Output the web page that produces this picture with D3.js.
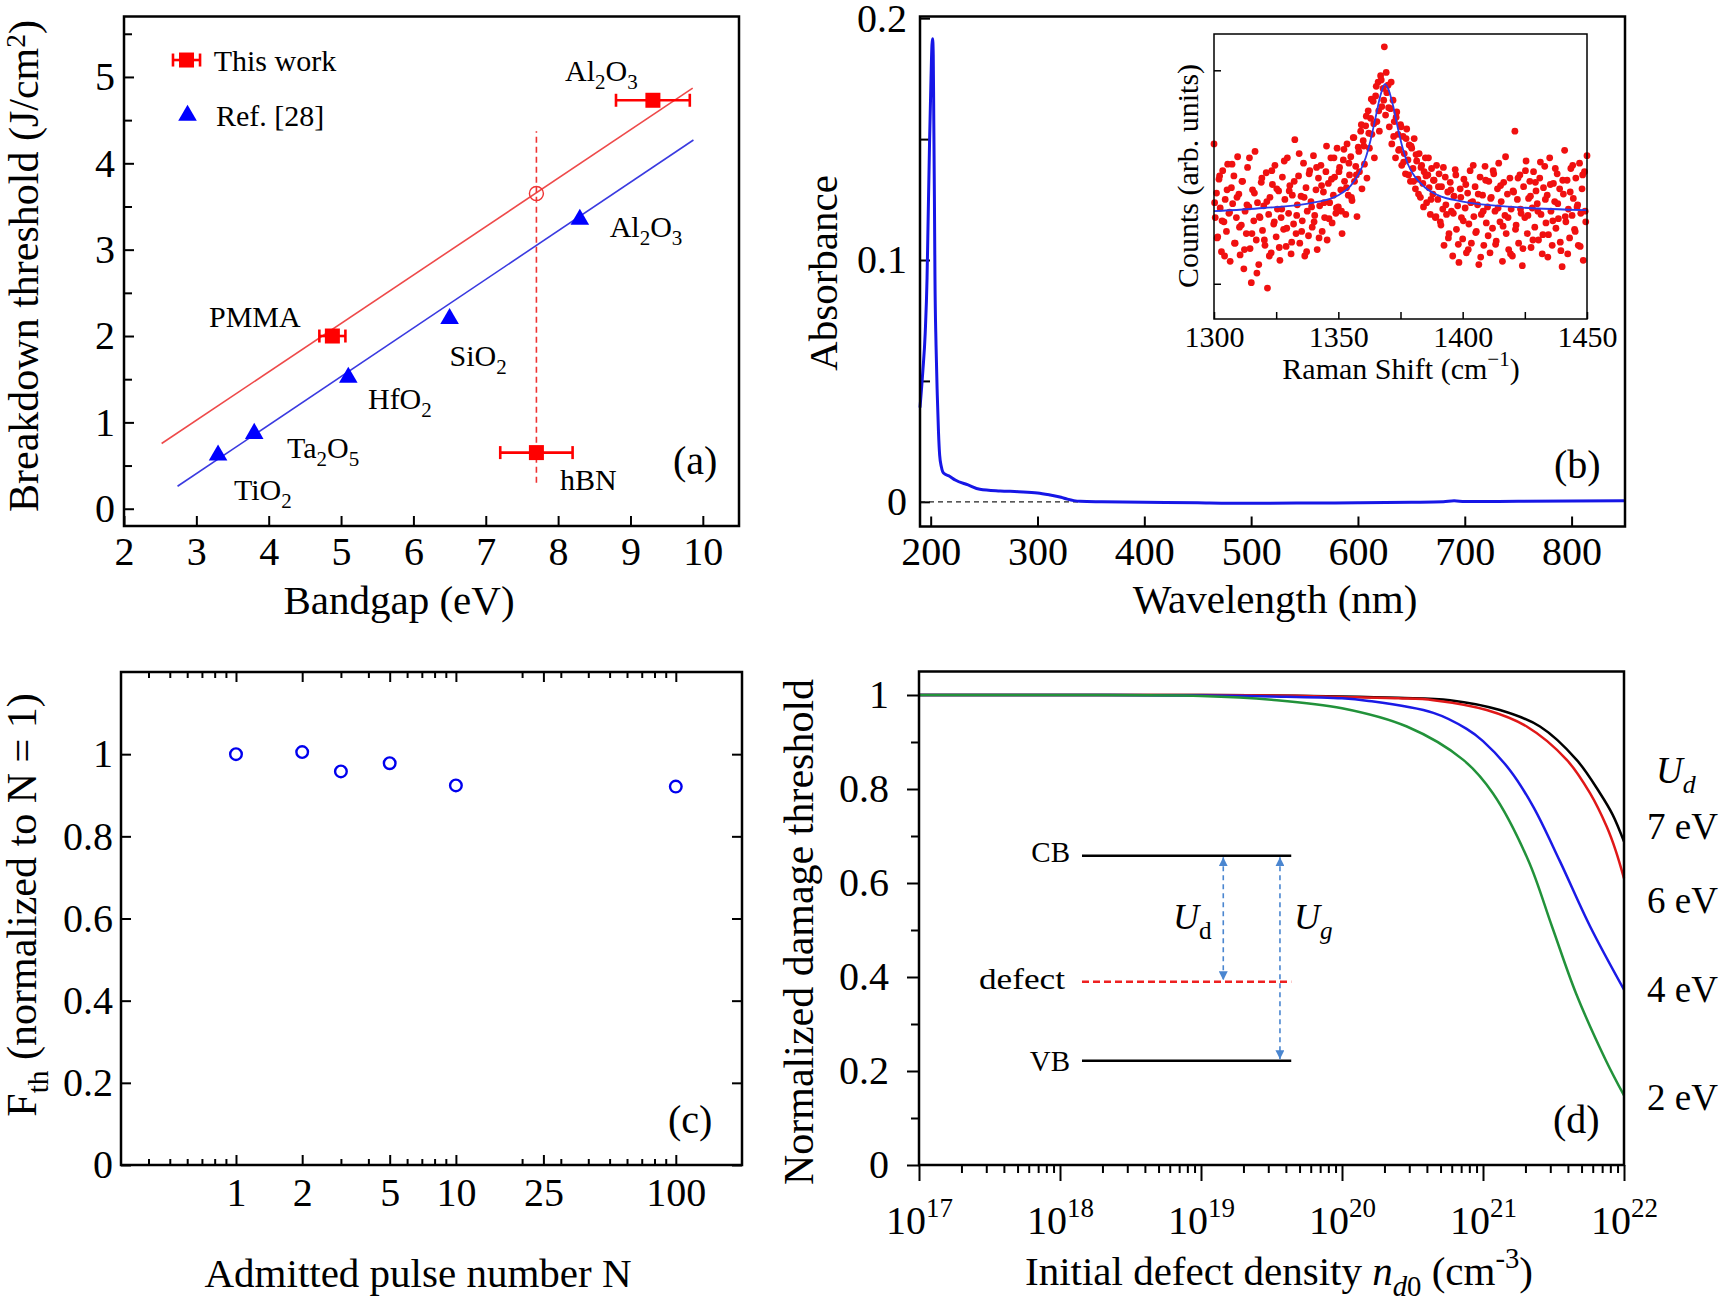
<!DOCTYPE html>
<html><head><meta charset="utf-8">
<script src="https://cdn.jsdelivr.net/npm/d3@7"></script>
<style>body{margin:0;background:#fff} svg{display:block}</style>
</head><body>
<script>
// ================= DATA =================
// Panel (a): breakdown threshold vs bandgap
const thisWorkNames = ["PMMA", "hBN", "Al2O3"];
const thisWorkGap   = [4.88, 7.70, 9.31];
const thisWorkFth   = [2.00, 0.65, 4.73];
const thisWorkErr   = [0.18, 0.50, 0.51];
const refNames = ["TiO2", "Ta2O5", "HfO2", "SiO2", "Al2O3"];
const refGap   = [3.30, 3.80, 5.10, 6.50, 8.30];
const refFth   = [0.62, 0.87, 1.52, 2.20, 3.35];
const redFitGap  = [2.52, 9.86];
const redFitFth  = [0.755, 4.87];
const blueFitGap = [2.74, 9.87];
const blueFitFth = [0.26, 4.27];
const hbnPredGap = 7.70, hbnPredFth = 3.65;
const hbnGuideFth = [0.30, 4.37];
const aXTicks = [2, 3, 4, 5, 6, 7, 8, 9, 10];
const aYTicks = [0, 1, 2, 3, 4, 5];
const aYMinor = [0.5, 1.5, 2.5, 3.5, 4.5, 5.5];

// Panel (b): absorbance spectrum
const absWl  = [190, 192.6, 194.9, 196.6, 197.3, 199, 200.3, 201.2, 201.8, 202.4, 202.9, 203.5, 204, 205, 206.2, 207.3, 208.4, 210, 212, 218, 223, 235, 246, 265, 282, 300, 312, 322, 328, 334, 340, 360, 400, 450, 480, 550, 600, 650, 680, 690, 700, 750, 800, 850];
const absVal = [0.039, 0.0537, 0.070, 0.0926, 0.109, 0.150, 0.175, 0.189, 0.1915, 0.185, 0.158, 0.125, 0.093, 0.065, 0.044, 0.029, 0.0193, 0.0145, 0.0119, 0.0105, 0.0090, 0.0070, 0.0052, 0.0045, 0.0042, 0.0037, 0.0028, 0.0019, 0.0011, 0.0005, 0.0002, 0.0000, -0.0002, -0.0004, -0.0006, -0.0005, -0.0004, -0.0002, 0.0000, 0.0004, 0.0001, 0.0002, 0.0003, 0.0004];
const bXTicks = [200, 300, 400, 500, 600, 700, 800];
const bYTicks = [0, 0.1, 0.2];
const bYMinor = [0.05, 0.15];

// Panel (b) inset: Raman spectrum (counts, arb. units)
// scan 1: every 0.5 cm-1 from 1300 to 1450
const ramanShift = d3.range(1300, 1450.001, 0.5);
const ramanCounts = [
331,262,285,244,298,271,230,306,258,279,
249,312,266,221,290,275,301,238,262,319,
284,227,255,296,214,268,247,309,272,233,
201,288,259,324,241,276,218,262,295,250,
273,236,304,196,265,281,229,293,256,311,
244,270,287,222,262,300,251,279,235,318,
266,292,228,283,256,335,247,274,301,238,
282,259,313,226,290,268,245,306,277,253,
320,264,288,232,299,273,311,249,286,262,
305,241,294,276,318,257,283,300,266,327,
272,309,288,247,316,296,265,331,283,302,
319,278,337,296,310,263,328,305,343,289,
334,312,348,299,362,327,355,340,371,318,
376,352,389,343,395,366,383,422,358,379,
386,347,364,331,372,352,318,361,340,326,
349,311,338,322,303,345,316,330,296,327,
308,336,289,315,298,322,281,311,294,305,
318,276,302,290,265,308,284,297,262,311,
279,303,258,291,270,236,300,265,286,247,
295,268,226,282,307,251,273,220,289,262,
242,298,271,229,285,256,306,238,277,263,
291,249,274,218,300,265,283,236,310,257,
272,296,229,281,252,303,268,240,289,313,
258,277,221,295,264,247,284,232,299,270,
226,286,343,255,279,238,302,266,217,291,
262,315,247,280,296,234,271,305,253,287,
275,241,299,265,228,290,310,257,283,246,
318,268,236,294,277,252,303,261,289,231,
216,284,325,258,297,270,243,308,264,280,
251,299,272,236,313,266,289,222,305,258,
320];
// scan 2: every 1 cm-1 from 1300.25 to 1449.25
const ramanShift2 = d3.range(1300.25, 1450, 1.0);
const ramanCounts2 = [
276,243,301,259,226,288,267,312,238,281,
253,296,232,274,318,247,285,210,263,299,
241,277,226,306,258,289,234,270,315,252,
287,239,296,264,322,249,281,230,303,272,
258,309,243,292,276,329,261,298,318,271,
305,268,326,290,313,281,337,302,324,349,
329,357,341,373,350,385,362,391,372,398,
365,389,338,356,325,347,314,336,302,329,
296,321,284,309,272,301,318,279,297,263,
291,255,309,274,243,288,266,302,237,281,
259,293,232,276,311,248,284,225,268,297,
245,280,306,237,271,292,254,319,262,228,
287,251,299,270,233,306,264,282,241,295,
268,314,246,279,225,293,259,308,275,239,
297,263,228,286,311,249,274,235,302,268];
const fitShift  = [1300, 1320, 1340, 1350, 1355, 1358, 1361, 1363, 1365, 1367, 1368.7, 1370, 1372, 1374, 1376, 1378, 1380, 1385, 1390, 1400, 1420, 1450];
const fitCounts = [268, 271, 276, 283, 292, 302, 318, 335, 356, 377, 387, 383, 367, 345, 326, 312, 303, 290, 283, 277, 272, 269];
const insetXTicks = [1300, 1350, 1400, 1450];
const insetXMinor = [1325, 1375, 1425];
const insetYTicks = [200, 400];

// Panel (c): threshold vs pulse number
const pulseN   = [1, 2, 3, 5, 10, 100];
const pulseFth = [1.000, 1.005, 0.958, 0.978, 0.924, 0.921];
const cXTicks  = [1, 2, 5, 10, 25, 100];
const cXMinor  = [0.4, 0.5, 0.6, 0.7, 0.8, 0.9, 3, 4, 6, 7, 8, 9, 20, 30, 40, 50, 60, 70, 80, 90];
const cYTicks  = [0, 0.2, 0.4, 0.6, 0.8, 1];

// Panel (d): normalized damage threshold vs log10 defect density
const ud7Log = [17, 18, 19, 19.5, 20, 20.4, 20.766, 21.12, 21.404, 21.664, 21.83, 21.92, 22];
const ud7Val = [1, 1, 1, 0.999, 0.997, 0.994, 0.989, 0.968, 0.933, 0.862, 0.791, 0.745, 0.688];
const ud6Log = [17, 18, 19, 19.5, 20, 20.4, 20.648, 21.026, 21.31, 21.594, 21.759, 21.877, 21.94, 22];
const ud6Val = [1, 1, 1, 0.999, 0.996, 0.993, 0.989, 0.968, 0.933, 0.862, 0.791, 0.720, 0.670, 0.610];
const ud4Log = [17, 18, 19, 19.5, 20, 20.175, 20.648, 20.884, 21.0, 21.191, 21.357, 21.546, 21.759, 22];
const ud4Val = [1, 1, 0.999, 0.997, 0.993, 0.988, 0.962, 0.928, 0.902, 0.840, 0.762, 0.646, 0.508, 0.373];
const ud2Log = [17, 18, 19, 19.5, 20, 20.46, 20.86, 21.07, 21.32, 21.49, 21.66, 21.87, 22];
const ud2Val = [1, 1, 0.998, 0.990, 0.972, 0.933, 0.862, 0.791, 0.649, 0.507, 0.365, 0.2235, 0.148];
const udLabels = ["7 eV", "6 eV", "4 eV", "2 eV"];
const dDecades = [1e17, 1e18, 1e19, 1e20, 1e21, 1e22];
const dYTicks = [0, 0.2, 0.4, 0.6, 0.8, 1];
const dYMinor = [0.1, 0.3, 0.5, 0.7, 0.9];
// band diagram levels (normalized y) and extent (log10 density)
const bandCB = 0.658, bandDefect = 0.39, bandVB = 0.222;
const bandLogStart = 18.156, bandLogEnd = 19.64, arrowUdLog = 19.158, arrowUgLog = 19.56;

// ================= DRAW =================
const FONT = "'Liberation Serif','Times New Roman',Times,serif";
const TICK_FS = 40;
const svg = d3.select('body').append('svg').attr('width', 1725).attr('height', 1300);
svg.append('rect').attr('width', 1725).attr('height', 1300).attr('fill', '#fff');

function rich(parent, x, y, parts, o = {}) {
  const fs = o.size || 30;
  const t = parent.append('text').attr('x', x).attr('y', y)
    .attr('font-family', FONT).attr('font-size', fs).attr('fill', o.fill || '#000')
    .attr('text-anchor', o.anchor || 'start');
  if (o.rotate != null) t.attr('transform', `rotate(${o.rotate},${x},${y})`);
  if (o.len) t.attr('textLength', o.len).attr('lengthAdjust', 'spacingAndGlyphs');
  let cur = 0;
  parts.forEach(p => {
    const [str, kind] = typeof p === 'string' ? [p, 'n'] : p;
    let off = 0, sc = 1;
    if (kind.includes('sub')) { off = fs * 0.28; sc = 0.7; }
    if (kind.includes('sup')) { off = -fs * (o.supOff || 0.42); sc = o.supScale || 0.7; }
    const ts = t.append('tspan').attr('dy', off - cur).attr('font-size', fs * sc).text(str);
    if (kind.includes('i')) ts.attr('font-style', 'italic');
    cur = off;
  });
  return t;
}
function addAxis(g, gen, tx, ty, fs, sw = 2) {
  const a = g.append('g').attr('transform', `translate(${tx},${ty})`).call(gen);
  a.select('.domain').remove();
  a.selectAll('.tick line').attr('stroke', '#000').attr('stroke-width', sw);
  a.selectAll('.tick text').filter(function () { return this.textContent === ''; }).remove();
  a.selectAll('.tick text').attr('font-family', FONT).attr('font-size', fs).attr('fill', '#000');
  return a;
}
function frame(g, B, sw) {
  g.append('rect').attr('x', B.l).attr('y', B.t).attr('width', B.r - B.l).attr('height', B.b - B.t)
    .attr('fill', 'none').attr('stroke', '#000').attr('stroke-width', sw);
}
const chem = s => s.split(/(\d)/).filter(z => z).map(z => /\d/.test(z) ? [z, 'sub'] : z);

// ---------- Panel (a) ----------
{
  const A = { l: 124, r: 739, t: 16.5, b: 526 };
  const x = d3.scaleLinear().domain([2, 10.5]).range([A.l, A.r]);
  const y = d3.scaleLinear().domain([-0.2, 5.7]).range([A.b, A.t]);
  const g = svg.append('g');
  addAxis(g, d3.axisBottom(x).tickValues(aXTicks).tickFormat(d3.format('d')).tickSizeInner(-10).tickSizeOuter(0).tickPadding(11), 0, A.b, TICK_FS);
  addAxis(g, d3.axisLeft(y).tickValues(aYTicks).tickFormat(d3.format('d')).tickSizeInner(-10).tickSizeOuter(0).tickPadding(9), A.l, 0, TICK_FS);
  addAxis(g, d3.axisLeft(y).tickValues(aYMinor).tickFormat('').tickSizeInner(-8).tickSizeOuter(0), A.l, 0, TICK_FS);
  const line = d3.line().x(d => x(d[0])).y(d => y(d[1]));
  g.append('path').attr('d', line(d3.zip(redFitGap, redFitFth))).attr('stroke', '#ee4a4a').attr('stroke-width', 1.6).attr('fill', 'none');
  g.append('path').attr('d', line(d3.zip(blueFitGap, blueFitFth))).attr('stroke', '#3a3ae0').attr('stroke-width', 1.6).attr('fill', 'none');
  g.append('path').attr('d', line(hbnGuideFth.map(v => [hbnPredGap, v]))).attr('stroke', '#ee3333').attr('stroke-width', 1.6).attr('stroke-dasharray', '6,4').attr('fill', 'none');
  g.append('circle').attr('cx', x(hbnPredGap)).attr('cy', y(hbnPredFth)).attr('r', 7).attr('fill', 'none').attr('stroke', '#ee3333').attr('stroke-width', 1.4);
  const tri = d3.symbol().type(d3.symbolTriangle).size(150);
  g.selectAll('.tri').data(d3.zip(refGap, refFth)).join('path')
    .attr('transform', d => `translate(${x(d[0])},${y(d[1])})`).attr('d', tri()).attr('fill', '#0000ff');
  const drawErr = (cx, cy, ex) => {
    g.append('line').attr('x1', x(cx - ex)).attr('x2', x(cx + ex)).attr('y1', y(cy)).attr('y2', y(cy)).attr('stroke', '#ff0000').attr('stroke-width', 2.6);
    [cx - ex, cx + ex].forEach(e => g.append('line').attr('x1', x(e)).attr('x2', x(e)).attr('y1', y(cy) - 6.5).attr('y2', y(cy) + 6.5).attr('stroke', '#ff0000').attr('stroke-width', 2.6));
    g.append('rect').attr('x', x(cx) - 7.5).attr('y', y(cy) - 7.5).attr('width', 15).attr('height', 15).attr('fill', '#ff0000');
  };
  thisWorkGap.forEach((v, i) => drawErr(v, thisWorkFth[i], thisWorkErr[i]));
  // legend
  drawErr(2.864, 5.196, 0.187);
  g.append('path').attr('transform', `translate(${x(2.878)},${y(4.555)})`).attr('d', tri()).attr('fill', '#0000ff');
  rich(g, x(3.24), y(5.066), ['This work'], { size: 30 });
  rich(g, x(3.27), y(4.436), ['Ref. [28]'], { size: 30 });
  // labels
  rich(g, x(8.095), y(4.953), chem('Al2O3'), { size: 30 });
  rich(g, x(8.712), y(3.147), chem('Al2O3'), { size: 30 });
  rich(g, x(3.175), y(2.105), ['PMMA'], { size: 30 });
  rich(g, x(6.499), y(1.658), chem('SiO2'), { size: 30 });
  rich(g, x(5.372), y(1.155), chem('HfO2'), { size: 30 });
  rich(g, x(4.253), y(0.588), chem('Ta2O5'), { size: 30 });
  rich(g, x(3.52), y(0.101), chem('TiO2'), { size: 30 });
  rich(g, x(8.026), y(0.217), ['hBN'], { size: 30 });
  rich(g, x(9.588), y(0.403), ['(a)'], { size: 40 });
  frame(g, A, 2.5);
  rich(g, 399, 614, ['Bandgap (eV)'], { size: 41, anchor: 'middle' });
  rich(g, 38, 266, ['Breakdown threshold (J/cm', ['2', 'sup'], ')'], { size: 42, anchor: 'middle', rotate: -90, supOff: 0.32, supScale: 0.65 });
}

// ---------- Panel (b) ----------
{
  const B = { l: 920, r: 1625, t: 16.5, b: 526.5 };
  const x = d3.scaleLinear().domain([190, 850]).range([B.l, B.r]);
  const y = d3.scaleLinear().domain([-0.0102, 0.2007]).range([B.b, B.t]);
  const g = svg.append('g');
  addAxis(g, d3.axisBottom(x).tickValues(bXTicks).tickFormat(d3.format('d')).tickSizeInner(-10).tickSizeOuter(0).tickPadding(10), 0, B.b, TICK_FS);
  addAxis(g, d3.axisLeft(y).tickValues(bYTicks).tickFormat(d => d === 0 ? '0' : d.toFixed(1)).tickSizeInner(-10).tickSizeOuter(0).tickPadding(13), B.l, 0, TICK_FS);
  addAxis(g, d3.axisLeft(y).tickValues(bYMinor).tickFormat('').tickSizeInner(-10).tickSizeOuter(0), B.l, 0, TICK_FS);
  g.append('line').attr('x1', x(190)).attr('x2', x(340)).attr('y1', y(0)).attr('y2', y(0)).attr('stroke', '#222').attr('stroke-width', 1.4).attr('stroke-dasharray', '5,4');
  const line = d3.line().x(d => x(d[0])).y(d => y(d[1])).curve(d3.curveMonotoneX);
  g.append('path').attr('d', line(d3.zip(absWl, absVal))).attr('stroke', '#1616e6').attr('stroke-width', 3).attr('fill', 'none');
  rich(g, 1554, 478, ['(b)'], { size: 40 });
  frame(g, B, 2.5);
  rich(g, 1275, 613, ['Wavelength (nm)'], { size: 41, anchor: 'middle' });
  rich(g, 837, 273, ['Absorbance'], { size: 41, anchor: 'middle', rotate: -90 });

  // inset
  const I = { l: 1214, r: 1587, t: 34, b: 319 };
  const xi = d3.scaleLinear().domain([1300, 1450]).range([I.l, I.r]);
  const yi = d3.scaleLinear().domain([167, 434]).range([I.b, I.t]);
  const gi = g.append('g');
  gi.append('rect').attr('x', I.l).attr('y', I.t).attr('width', I.r - I.l).attr('height', I.b - I.t).attr('fill', '#fff');
  const pts = d3.zip(ramanShift, ramanCounts).concat(d3.zip(ramanShift2, ramanCounts2));
  gi.selectAll('circle').data(pts).join('circle')
    .attr('cx', d => xi(d[0])).attr('cy', d => yi(d[1])).attr('r', 3.4).attr('fill', '#f01010');
  const lineI = d3.line().x(d => xi(d[0])).y(d => yi(d[1])).curve(d3.curveMonotoneX);
  gi.append('path').attr('d', lineI(d3.zip(fitShift, fitCounts))).attr('stroke', '#2a3ae8').attr('stroke-width', 1.8).attr('fill', 'none');
  addAxis(gi, d3.axisBottom(xi).tickValues(insetXTicks).tickFormat(d3.format('d')).tickSizeInner(-7).tickSizeOuter(0).tickPadding(7), 0, I.b, 30, 1.5);
  addAxis(gi, d3.axisBottom(xi).tickValues(insetXMinor).tickFormat('').tickSizeInner(-7).tickSizeOuter(0), 0, I.b, 30, 1.5);
  addAxis(gi, d3.axisLeft(yi).tickValues(insetYTicks).tickFormat('').tickSizeInner(-7).tickSizeOuter(0), I.l, 0, 30, 1.5);
  frame(gi, I, 1.5);
  rich(gi, 1401, 379, ['Raman Shift (cm', ['\u22121', 'sup'], ')'], { size: 30, anchor: 'middle' });
  rich(gi, 1198, 176, ['Counts (arb. units)'], { size: 30, anchor: 'middle', rotate: -90 });
}

// ---------- Panel (c) ----------
{
  const C = { l: 121, r: 742, t: 672, b: 1165 };
  const x = d3.scaleLog().domain([0.3, 200]).range([C.l, C.r]);
  const y = d3.scaleLinear().domain([0, 1.2]).range([C.b, C.t]);
  const g = svg.append('g');
  addAxis(g, d3.axisBottom(x).tickValues(cXTicks).tickFormat(d3.format('d')).tickSizeInner(-10).tickSizeOuter(0).tickPadding(13), 0, C.b, TICK_FS);
  addAxis(g, d3.axisBottom(x).tickValues(cXMinor).tickFormat('').tickSizeInner(-6).tickSizeOuter(0), 0, C.b, TICK_FS);
  addAxis(g, d3.axisTop(x).tickValues(cXTicks).tickFormat('').tickSizeInner(-10).tickSizeOuter(0), 0, C.t, TICK_FS);
  addAxis(g, d3.axisTop(x).tickValues(cXMinor).tickFormat('').tickSizeInner(-6).tickSizeOuter(0), 0, C.t, TICK_FS);
  addAxis(g, d3.axisLeft(y).tickValues(cYTicks).tickFormat(d => (d === 0 || d === 1) ? String(d) : d.toFixed(1)).tickSizeInner(-10).tickSizeOuter(0).tickPadding(8), C.l, 0, TICK_FS);
  addAxis(g, d3.axisRight(y).tickValues(cYTicks).tickFormat('').tickSizeInner(-10).tickSizeOuter(0), C.r, 0, TICK_FS);
  g.selectAll('.pt').data(d3.zip(pulseN, pulseFth)).join('circle')
    .attr('cx', d => x(d[0])).attr('cy', d => y(d[1])).attr('r', 5.8).attr('fill', 'none').attr('stroke', '#0000ee').attr('stroke-width', 2.4);
  rich(g, 668, 1133, ['(c)'], { size: 40 });
  frame(g, C, 2.5);
  rich(g, 418, 1287, ['Admitted pulse number N'], { size: 41, anchor: 'middle' });
  rich(g, 36, 905, ['F', ['th', 'sub'], ' (normalized to N = 1)'], { size: 42, anchor: 'middle', rotate: -90 });
}

// ---------- Panel (d) ----------
{
  const D = { l: 919, r: 1624, t: 671.5, b: 1165 };
  const x = d3.scaleLog().domain([1e17, 1e22]).range([D.l, D.r]);
  const y = d3.scaleLinear().domain([0, 1.05]).range([D.b, D.t]);
  const g = svg.append('g');
  const minors = [];
  dDecades.slice(0, -1).forEach(dec => { for (let m = 2; m <= 9; m++) minors.push(m * dec); });
  const ax = addAxis(g, d3.axisBottom(x).tickValues(dDecades).tickFormat('').tickSizeInner(16).tickSizeOuter(0), 0, D.b, TICK_FS);
  ax.selectAll('.tick').each(function (d) {
    const t = d3.select(this).append('text').attr('y', 69).attr('text-anchor', 'middle')
      .attr('font-family', FONT).attr('font-size', TICK_FS).attr('fill', '#000');
    t.append('tspan').text('10');
    t.append('tspan').attr('dy', -17).attr('font-size', 27).text(Math.round(Math.log10(d)));
  });
  addAxis(g, d3.axisBottom(x).tickValues(minors).tickFormat('').tickSizeInner(8).tickSizeOuter(0), 0, D.b, TICK_FS);
  addAxis(g, d3.axisLeft(y).tickValues(dYTicks).tickFormat(d => (d === 0 || d === 1) ? String(d) : d.toFixed(1)).tickSizeInner(12).tickSizeOuter(0).tickPadding(18), D.l, 0, TICK_FS);
  addAxis(g, d3.axisLeft(y).tickValues(dYMinor).tickFormat('').tickSizeInner(8).tickSizeOuter(0), D.l, 0, TICK_FS);

  const line = d3.line().x(d => x(Math.pow(10, d[0]))).y(d => y(d[1])).curve(d3.curveCatmullRom.alpha(0.5));
  const series = [[ud7Log, ud7Val, '#000000'], [ud6Log, ud6Val, '#e01818'], [ud4Log, ud4Val, '#1a1ae6'], [ud2Log, ud2Val, '#22923a']];
  series.forEach(s => g.append('path').attr('d', line(d3.zip(s[0], s[1]))).attr('stroke', s[2]).attr('stroke-width', 2.5).attr('fill', 'none'));

  // band diagram
  const bx0 = x(Math.pow(10, bandLogStart)), bx1 = x(Math.pow(10, bandLogEnd));
  g.append('line').attr('x1', bx0).attr('x2', bx1).attr('y1', y(bandCB)).attr('y2', y(bandCB)).attr('stroke', '#000').attr('stroke-width', 2.5);
  g.append('line').attr('x1', bx0).attr('x2', bx1).attr('y1', y(bandVB)).attr('y2', y(bandVB)).attr('stroke', '#000').attr('stroke-width', 2.5);
  g.append('line').attr('x1', bx0).attr('x2', bx1).attr('y1', y(bandDefect)).attr('y2', y(bandDefect)).attr('stroke', '#ee2020').attr('stroke-width', 2.5).attr('stroke-dasharray', '7,4');
  const defs = svg.append('defs');
  defs.append('marker').attr('id', 'ah').attr('viewBox', '0 0 10 10').attr('refX', 10).attr('refY', 5)
    .attr('markerWidth', 9).attr('markerHeight', 9).attr('markerUnits', 'userSpaceOnUse').attr('orient', 'auto-start-reverse')
    .append('path').attr('d', 'M0,0 L10,5 L0,10 z').attr('fill', '#4a86d0');
  const arrow = (lg, v0, v1) => g.append('line').attr('x1', x(Math.pow(10, lg))).attr('x2', x(Math.pow(10, lg)))
    .attr('y1', y(v0) + 1.5).attr('y2', y(v1) - 1.5).attr('stroke', '#4a86d0').attr('stroke-width', 1.6)
    .attr('stroke-dasharray', '5,4').attr('marker-start', 'url(#ah)').attr('marker-end', 'url(#ah)');
  arrow(arrowUdLog, bandCB, bandDefect);
  arrow(arrowUgLog, bandCB, bandVB);
  rich(g, 1070, 862, ['CB'], { size: 29, anchor: 'end' });
  rich(g, 1065, 989, ['defect'], { size: 30, anchor: 'end', len: 86 });
  rich(g, 1070, 1071, ['VB'], { size: 29, anchor: 'end' });
  rich(g, 1173, 929, [['U', 'i'], ['d', 'sub']], { size: 36 });
  rich(g, 1294, 929, [['U', 'i'], ['g', 'isub']], { size: 36 });
  rich(g, 1553, 1133, ['(d)'], { size: 40 });
  frame(g, D, 2.5);
  // U_d labels at right
  rich(g, 1656, 783, [['U', 'i'], ['d', 'isub']], { size: 37 });
  const endY = [839, 913, 1002, 1110];
  udLabels.forEach((s, i) => rich(g, 1647, endY[i], [s], { size: 37 }));
  rich(g, 1279, 1285, ['Initial defect density ', ['n', 'i'], ['d', 'isub'], ['0', 'sub'], ' (cm', ['-3', 'sup'], ')'], { size: 41, anchor: 'middle' });
  rich(g, 813, 932, ['Normalized damage threshold'], { size: 42, anchor: 'middle', rotate: -90 });
}
</script>
</body></html>
